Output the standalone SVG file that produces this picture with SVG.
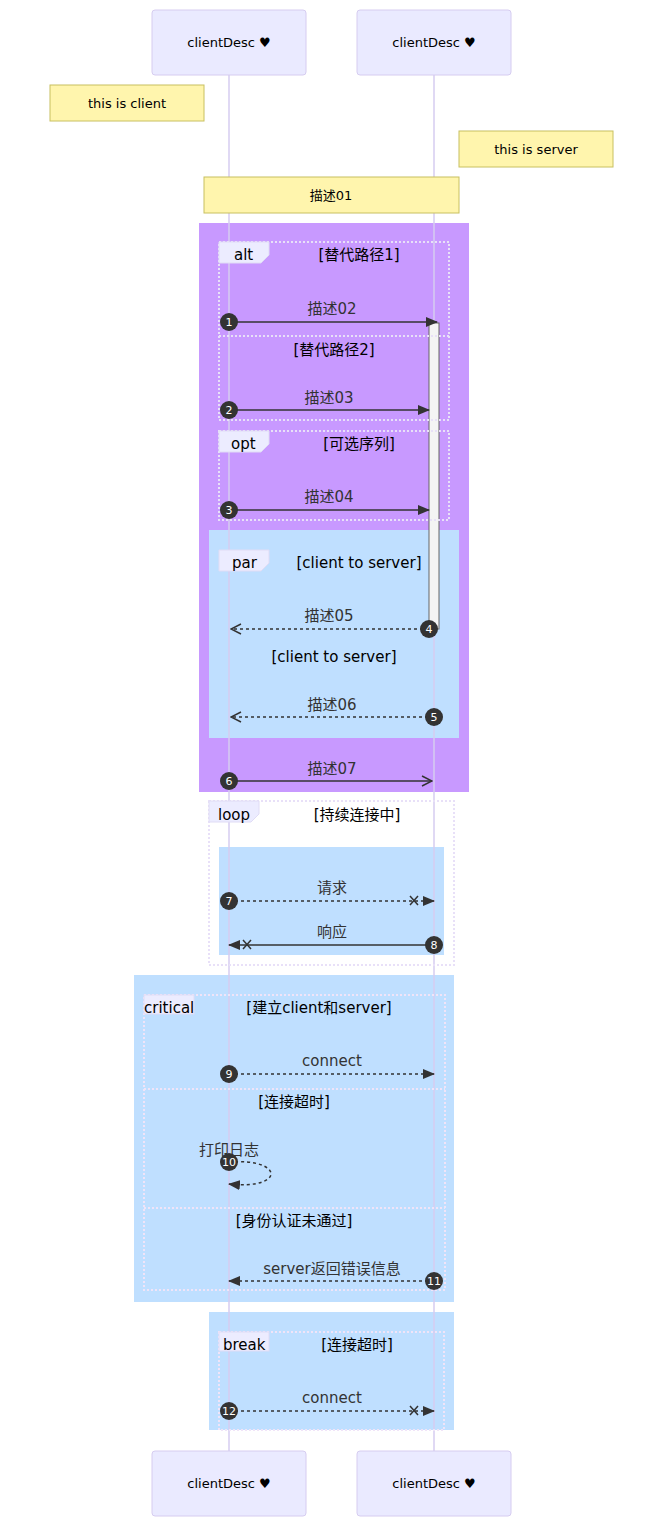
<svg xmlns="http://www.w3.org/2000/svg" width="663" height="1527" viewBox="0 0 663 1527">
<style>
text{font-family:"DejaVu Sans","Noto Sans CJK SC",sans-serif}
.actor{fill:#eaeaff;stroke:#d6ccf0;stroke-width:1}
.at{font-size:13px;text-anchor:middle}
.life{stroke:#d6ccf0;stroke-width:1.5}
.note{fill:#fff5ad;stroke:#c8c060;stroke-width:1}
.nt{font-size:13px;text-anchor:middle}
.frame{fill:none;stroke:#e8e0f8;stroke-width:2;stroke-dasharray:2,2}
.faint{stroke:#f0e4f8}
.lbox{fill:#ececff;stroke:#e0dcf5}
.lt{font-size:15px}
.ct{font-size:15px;text-anchor:middle}
.msg{stroke:#333;stroke-width:1.5;fill:none}
.dash{stroke-dasharray:3,3}
.mt{font-size:15px;text-anchor:middle;fill:#333}
.num{fill:#333}
.nn{font-size:11px;fill:#fff;text-anchor:middle}
</style>
<defs>
<marker id="ah" viewBox="0 0 12 10" refX="11" refY="5" markerWidth="12" markerHeight="10" orient="auto" markerUnits="userSpaceOnUse"><path d="M0,0L12,5L0,10z" fill="#333"/></marker>
<marker id="op" viewBox="0 0 12 12" refX="11" refY="6" markerWidth="12" markerHeight="12" orient="auto" markerUnits="userSpaceOnUse"><path d="M1,1L11,6L1,11" fill="none" stroke="#333" stroke-width="1.5"/></marker>
</defs>
<g id="backgrounds">
<rect x="199" y="223" width="270" height="569" fill="#c899ff"/>
<rect x="209" y="530" width="250" height="208" fill="#bfdfff"/>
<rect x="219" y="847" width="225" height="108" fill="#bfdfff"/>
<rect x="134" y="975" width="320" height="327" fill="#bfdfff"/>
<rect x="209" y="1312" width="245" height="118" fill="#bfdfff"/>
</g>
<g id="lifelines">
<line class="life" x1="229" y1="75" x2="229" y2="1451"/>
<line class="life" x1="434" y1="75" x2="434" y2="1451"/>
</g>
<g id="actor-client-top"><rect class="actor" x="152" y="10" width="154" height="65" rx="3"/><text class="at" x="229" y="47">clientDesc ♥</text></g>
<g id="actor-server-top"><rect class="actor" x="357" y="10" width="154" height="65" rx="3"/><text class="at" x="434" y="47">clientDesc ♥</text></g>
<g id="actor-client-bottom"><rect class="actor" x="152" y="1451" width="154" height="65" rx="3"/><text class="at" x="229" y="1488">clientDesc ♥</text></g>
<g id="actor-server-bottom"><rect class="actor" x="357" y="1451" width="154" height="65" rx="3"/><text class="at" x="434" y="1488">clientDesc ♥</text></g>
<g id="note1"><rect class="note" x="50" y="85" width="154" height="36"/><text class="nt" x="127" y="108">this is client</text></g>
<g id="note2"><rect class="note" x="459" y="131" width="154" height="36"/><text class="nt" x="536" y="154">this is server</text></g>
<g id="note3"><rect class="note" x="204" y="177" width="255" height="36"/><text class="nt" x="331" y="200">描述01</text></g>
<g id="activation"><rect x="429" y="323" width="10" height="306" fill="#f4f4f4" stroke="#666"/></g>
<g id="frame-alt">
<rect class="frame" x="219" y="242" width="230" height="178"/>
<line class="frame" x1="219" y1="336" x2="449" y2="336"/>
<path class="lbox" d="M219,242H269V255L261,263H219z"/>
<text class="lt" x="234" y="260">alt</text>
<text class="ct" x="359" y="260">[替代路径1]</text>
<text class="ct" x="334" y="355">[替代路径2]</text>
</g>
<g id="frame-opt">
<rect class="frame" x="219" y="431" width="230" height="89"/>
<path class="lbox" d="M219,431H269V444L261,452H219z"/>
<text class="lt" x="231" y="449">opt</text>
<text class="ct" x="359" y="449">[可选序列]</text>
</g>
<g id="frame-par">
<path class="lbox" d="M219,550H269V563L261,571H219z"/>
<text class="lt" x="232" y="568">par</text>
<text class="ct" x="359" y="568">[client to server]</text>
<text class="ct" x="334" y="662">[client to server]</text>
</g>
<g id="frame-loop">
<rect class="frame" x="209" y="801" width="245" height="164"/>
<path class="lbox" d="M209,801H259V814L251,822H209z"/>
<text class="lt" x="218" y="820">loop</text>
<text class="ct" x="357" y="820">[持续连接中]</text>
</g>
<g id="frame-critical">
<rect class="frame faint" x="144" y="995" width="301" height="295"/>
<line class="frame faint" x1="144" y1="1089" x2="445" y2="1089"/>
<line class="frame faint" x1="144" y1="1208" x2="445" y2="1208"/>
<rect class="lbox" x="144" y="995" width="50" height="19"/>
<text class="lt" x="144" y="1013">critical</text>
<text class="ct" x="319" y="1013">[建立client和server]</text>
<text class="ct" x="294" y="1107">[连接超时]</text>
<text class="ct" x="294" y="1226">[身份认证未通过]</text>
</g>
<g id="frame-break">
<rect class="frame faint" x="219" y="1332" width="225" height="98"/>
<rect class="lbox" x="219" y="1332" width="50" height="19"/>
<text class="lt" x="223" y="1350">break</text>
<text class="ct" x="357" y="1350">[连接超时]</text>
</g>
<g id="connectors">
<line class="msg" x1="229" y1="322" x2="437" y2="322" marker-end="url(#ah)"/>
<text class="mt" x="332" y="314">描述02</text>
<line class="msg" x1="229" y1="410" x2="429" y2="410" marker-end="url(#ah)"/>
<text class="mt" x="329" y="403">描述03</text>
<line class="msg" x1="229" y1="510" x2="429" y2="510" marker-end="url(#ah)"/>
<text class="mt" x="329" y="502">描述04</text>
<line class="msg dash" x1="429" y1="629" x2="231" y2="629" marker-end="url(#op)"/>
<text class="mt" x="329" y="621">描述05</text>
<line class="msg dash" x1="434" y1="717" x2="231" y2="717" marker-end="url(#op)"/>
<text class="mt" x="332" y="710">描述06</text>
<line class="msg" x1="229" y1="781" x2="432" y2="781" marker-end="url(#op)"/>
<text class="mt" x="332" y="774">描述07</text>
<line class="msg dash" x1="229" y1="901" x2="434" y2="901" marker-end="url(#ah)"/>
<path class="msg" d="M410,896l8,9M418,896l-8,9"/>
<text class="mt" x="332" y="893">请求</text>
<line class="msg" x1="434" y1="945" x2="229" y2="945" marker-end="url(#ah)"/>
<path class="msg" d="M243,940l8,9M251,940l-8,9"/>
<text class="mt" x="332" y="937">响应</text>
<line class="msg dash" x1="229" y1="1074" x2="434" y2="1074" marker-end="url(#ah)"/>
<text class="mt" x="332" y="1066">connect</text>
<path class="msg dash" d="M229,1162C285,1158 285,1190 229,1184" marker-end="url(#ah)"/>
<text class="mt" x="229" y="1155">打印日志</text>
<line class="msg dash" x1="434" y1="1281" x2="229" y2="1281" marker-end="url(#ah)"/>
<text class="mt" x="332" y="1274">server返回错误信息</text>
<line class="msg dash" x1="229" y1="1411" x2="434" y2="1411" marker-end="url(#ah)"/>
<path class="msg" d="M410,1406l8,9M418,1406l-8,9"/>
<text class="mt" x="332" y="1403">connect</text>
</g>
<g id="numbers">
<circle class="num" cx="229" cy="322" r="9"/><text class="nn" x="229" y="326">1</text>
<circle class="num" cx="229" cy="410" r="9"/><text class="nn" x="229" y="414">2</text>
<circle class="num" cx="229" cy="510" r="9"/><text class="nn" x="229" y="514">3</text>
<circle class="num" cx="429" cy="629" r="9"/><text class="nn" x="429" y="633">4</text>
<circle class="num" cx="434" cy="717" r="9"/><text class="nn" x="434" y="721">5</text>
<circle class="num" cx="229" cy="781" r="9"/><text class="nn" x="229" y="785">6</text>
<circle class="num" cx="229" cy="901" r="9"/><text class="nn" x="229" y="905">7</text>
<circle class="num" cx="434" cy="945" r="9"/><text class="nn" x="434" y="949">8</text>
<circle class="num" cx="229" cy="1074" r="9"/><text class="nn" x="229" y="1078">9</text>
<circle class="num" cx="229" cy="1162" r="9"/><text class="nn" x="229" y="1166">10</text>
<circle class="num" cx="434" cy="1281" r="9"/><text class="nn" x="434" y="1285">11</text>
<circle class="num" cx="229" cy="1411" r="9"/><text class="nn" x="229" y="1415">12</text>
</g>
</svg>
